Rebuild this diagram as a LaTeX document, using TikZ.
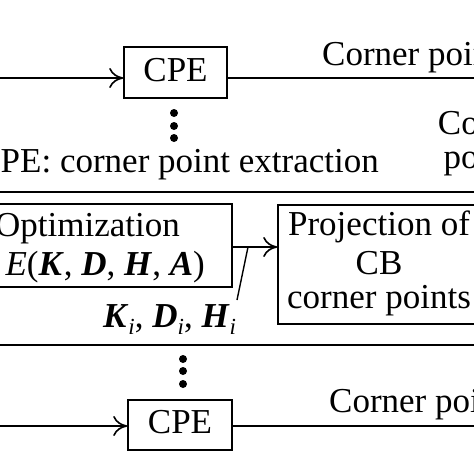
\documentclass[tikz,border=0pt]{standalone}
\usepackage{fontspec}
\setmainfont{Liberation Serif}
\usetikzlibrary{arrows.meta,calc}
\newcommand{\mybi}[1]{\textbf{\textit{#1}}}
\newcommand{\mysub}[1]{\raisebox{-7pt}{\fontsize{23}{23}\selectfont\itshape #1}}
\begin{document}
\begin{tikzpicture}[x=1pt,y=-1pt,
  every node/.style={font=\fontsize{35}{37}\selectfont, inner sep=0pt},
  box/.style={draw, line width=1.6pt, inner sep=0pt},
  ln/.style={line width=1.6pt},
  arr/.style={line width=1.6pt, -{To[length=14pt,width=20pt]}},
  dotn/.style={circle, fill, minimum size=8pt, inner sep=0pt}
]
\useasboundingbox (0,0) rectangle (474,474);
\clip (0,0) rectangle (474,474);

% top CPE
\node[box, minimum width=103pt, minimum height=51pt, text height=23pt, text depth=6pt] (cpe1) at (175.5,72.5) {CPE};
\coordinate (l1) at (-10,78);
\coordinate (r1) at (490,78);
\draw[arr] (l1) -- (l1 -| cpe1.west);
\draw[ln] (r1 -| cpe1.east) -- (r1);
\node[anchor=base west] (cp1) at (322,65) {Corner points};

\node[dotn] (d1) at (174,113) {};
\node[dotn] (d2) at (174,126) {};
\node[dotn] (d3) at (174,138) {};

\node[anchor=base east] (cap) at (379,172) {CPE: corner point extraction};
\node[anchor=base] (cr1) at (486.5,134) {Corner};
\node[anchor=base] (cr2) at (486.5,168) {points};

% band lines
\coordinate (la) at (-10,192);
\coordinate (lb) at (490,192);
\draw[ln] (la) -- (lb);
\coordinate (lc) at (-10,345);
\coordinate (ld) at (490,345);
\draw[ln] (lc) -- (ld);

% optimization box
\node[box, minimum width=272pt, minimum height=83pt] (opt) at (96,245.5) {};
\node[anchor=base east] (opt1) at (180,236) {Optimization};
\node[anchor=base east] (opt2) at (205,275) {\textit{E}(\mybi{K}, \mybi{D}, \mybi{H}, \mybi{A})};

% projection box
\node[box, minimum width=202pt, minimum height=119pt] (proj) at (379,264.5) {};
\node[anchor=base] (pr1) at (379,235) {Projection of};
\node[anchor=base] (pr2) at (379,274) {CB};
\node[anchor=base] (pr3) at (379,308) {corner points};

\coordinate (ylev) at (0,247);
\draw[arr] (opt.east |- ylev) -- (proj.west |- ylev);
\coordinate (kp) at (237,300);
\coordinate (ka) at (248,247);
\draw[line width=1.4pt] (kp) -- (ka);
\node[anchor=base west] (ki) at (103,327) {\mybi{K}\mysub{i}, \mybi{D}\mysub{i}, \mybi{H}\mysub{i}};

\node[dotn] (d4) at (183,359) {};
\node[dotn] (d5) at (183,371) {};
\node[dotn] (d6) at (183,384) {};

% bottom CPE
\node[box, minimum width=104pt, minimum height=50pt, text height=23pt, text depth=6pt] (cpe2) at (180,425) {CPE};
\coordinate (l2) at (-10,426);
\coordinate (r2) at (490,426);
\draw[arr] (l2) -- (l2 -| cpe2.west);
\draw[ln] (r2 -| cpe2.east) -- (r2);
\node[anchor=base west] (cp2) at (329,412) {Corner points};
\end{tikzpicture}
\end{document}
